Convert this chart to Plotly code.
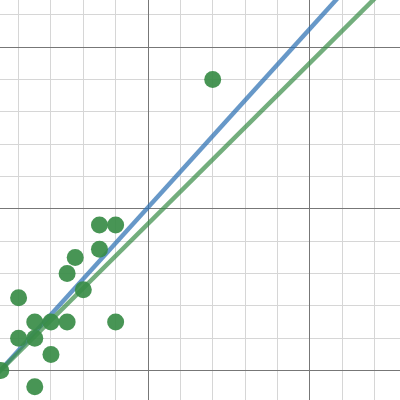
import plotly.graph_objects as go

xs = [2, -1.5, -1, -1.5, -2.25, -2.5, -2, -4, -3.5, -3, -2.5, -1, -4, -3.5, -3, -3.5, -4.55]
ys = [4, -0.5, -0.5, -1.25, -1.5, -2, -2.5, -2.75, -3.5, -3.5, -3.5, -3.5, -4, -4, -4.5, -5.5, -5]
blue_fit = [1.104, 0.045]   # slope, intercept
green_fit = [0.994, -0.46]
xr = [-4.575, 7.79]
yr = [-5.91, 6.46]

fig = go.Figure()
lx = [-6, 9]
fig.add_trace(go.Scatter(x=lx, y=[blue_fit[0]*v + blue_fit[1] for v in lx], mode='lines',
                         line=dict(color='rgba(45,112,179,0.72)', width=4.5)))
fig.add_trace(go.Scatter(x=lx, y=[green_fit[0]*v + green_fit[1] for v in lx], mode='lines',
                         line=dict(color='rgba(56,140,70,0.7)', width=4.5)))
fig.add_trace(go.Scatter(x=xs, y=ys, mode='markers',
                         marker=dict(color='rgba(56,140,70,0.92)', size=17, line=dict(width=0))))
ax = dict(showticklabels=False, zeroline=False, dtick=5, tick0=0,
          gridcolor='#777', gridwidth=1, ticks='',
          minor=dict(dtick=1, tick0=0, gridcolor='#d6d6d6', gridwidth=1, showgrid=True))
fig.update_layout(width=400, height=400, margin=dict(l=0, r=0, t=0, b=0),
                  plot_bgcolor='white', paper_bgcolor='white', showlegend=False,
                  xaxis=dict(ax, range=xr), yaxis=dict(ax, range=yr))
fig.write_html("out.html", config={'displayModeBar': False},
               post_script="document.body.style.margin='0';document.body.style.overflow='hidden';")
